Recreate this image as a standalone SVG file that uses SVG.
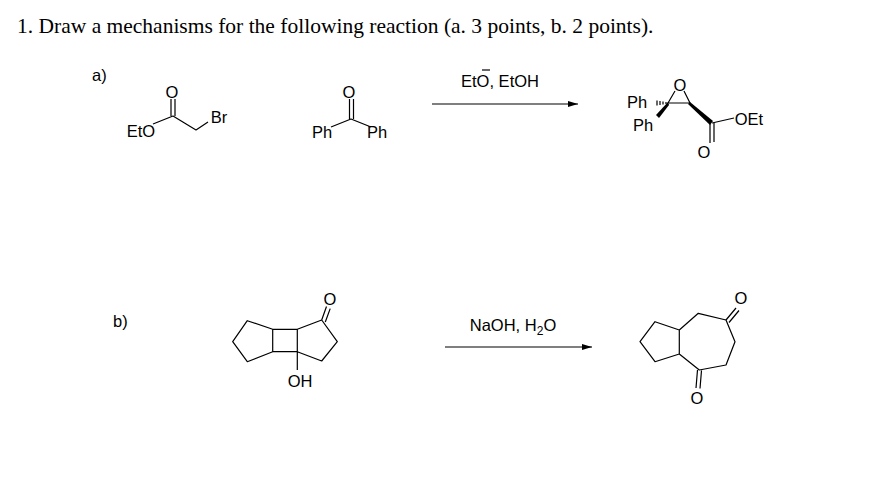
<svg xmlns="http://www.w3.org/2000/svg" width="877" height="504" viewBox="0 0 877 504">
<style>
.b{fill:none;stroke:#000;stroke-width:1.2;stroke-linejoin:round}
.t{font-family:"Liberation Sans",Arial,sans-serif;font-size:16.5px;fill:#000}
.m{text-anchor:middle}
</style>
<defs><marker id="ah" viewBox="0 0 10 6" refX="10" refY="3" markerWidth="10" markerHeight="6" markerUnits="userSpaceOnUse" orient="auto"><path d="M0,0L10,3L0,6z"/></marker></defs>
<rect width="877" height="504" fill="#fff"/>
<text x="17" y="33" style="font-family:'Liberation Serif',serif;font-size:21.5px">1.  Draw a mechanisms for the following reaction (a. 3 points, b. 2 points).</text>
<text class="t" x="92" y="81">a)</text>
<text class="t" x="113" y="327">b)</text>
<g id="ethyl-bromoacetate">
<text class="t m" x="141" y="137">EtO</text>
<text class="t m" x="172" y="98">O</text>
<text class="t m" x="219" y="123">Br</text>
<path class="b" d="M153,124L173,116L196,130L208,122M171,116V99M175,116V99"/>
</g>
<g id="benzophenone">
<text class="t m" x="349" y="98">O</text>
<text class="t m" x="322" y="138">Ph</text>
<text class="t m" x="377" y="138">Ph</text>
<path class="b" d="M331,127L351,119L371,127M349.5,119V99M353.5,119V99"/>
</g>
<g id="epoxide">
<text class="t m" x="680" y="91">O</text>
<text class="t m" x="637" y="108">Ph</text>
<text class="t m" x="643" y="131">Ph</text>
<text class="t m" x="749" y="125">OEt</text>
<text class="t m" x="704" y="158">O</text>
<path class="b" d="M668,103H690L684,91M668,103L675,91M712,123L734,118M710,124V143M714,123V142"/>
<path d="M668,102L656,115L659,118L669,105z"/>
<path d="M690,102L713,121L710,125L688,104z"/>
<path class="b" d="M666,102V104M663,101.5V104.5M660,101V105M657,100.5V105.5" stroke-width="1"/>
</g>
<g id="tricyclic-ketol">
<path class="b" d="M272.7,329.3H297.3V351.7H272.7ZM272.7,329.3L247.3,320.7L232.7,341.7L247.3,361.7L272.7,351.7M297.3,329.3L321.7,320L337.3,341.7L321.7,361L297.3,351.7M297.3,351.7V370M321.7,320L326.5,306.5M325.3,322L330.2,308.6"/>
<text class="t m" x="330" y="305">O</text>
<text class="t m" x="300" y="387">OH</text>
</g>
<g id="bicyclic-dione">
<path class="b" d="M679.3,330L655,321.7L640,341.7L655,361.7L679.3,354ZM679.3,330L698.3,313.3L726,320L735,341.7L726,365L699.3,370L679.3,354M726,320L736,308M729,322.5L739,310.5M697.5,370L696,388M701.5,370.5L700,388.5"/>
<text class="t m" x="741" y="304">O</text>
<text class="t m" x="697" y="404">O</text>
</g>
<g id="connectors">
<path class="b" d="M432,104H578" marker-end="url(#ah)"/>
<path class="b" d="M445,347H592" marker-end="url(#ah)"/>
<text class="t m" x="500" y="87">EtO, EtOH</text>
<path class="b" d="M482,70H490"/>
<text class="t m" x="513" y="331">NaOH, H<tspan dy="4" font-size="12">2</tspan><tspan dy="-4">O</tspan></text>
</g>
</svg>
